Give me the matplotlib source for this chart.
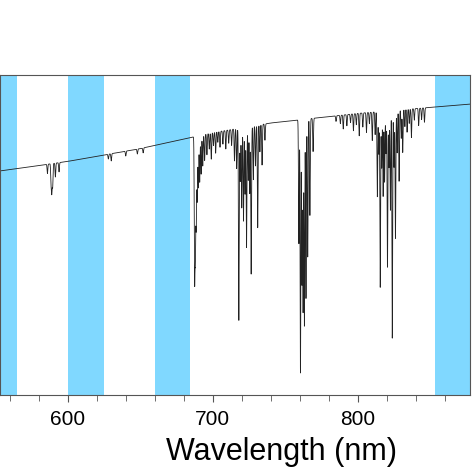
import numpy as np
import matplotlib.pyplot as plt
from matplotlib.ticker import MultipleLocator

plt.rcParams['font.family'] = ['Liberation Sans', 'DejaVu Sans']

# continuum knots (nm, relative intensity)
cont_nm = [540, 553, 600, 650, 700, 740, 760, 800, 840, 880, 900]
cont_val = [0.69, 0.70, 0.73, 0.77, 0.82, 0.85, 0.86, 0.88, 0.895, 0.91, 0.915]

# absorption lines: centre (nm), depth (fraction of continuum)
line_nm = [586.0, 588.5, 589.0, 589.6, 591.5, 594.0, 628.0, 630.0, 640.0, 648.0, 652.0,
           687.5, 688.0, 688.6, 689.3, 690.1, 691.0, 692.0, 693.1, 694.4, 696.0, 697.6,
           699.0, 700.5, 702.0, 703.5, 705.0, 707.0, 709.0, 711.0, 713.0, 715.0, 716.5,
           718.0, 719.0, 720.0, 721.2, 722.3, 723.3, 724.5, 725.5, 726.5, 728.0, 729.5,
           731.0, 732.5, 734.0, 736.0,
           759.4, 760.5, 761.5, 762.3, 763.2, 764.3, 765.5, 767.0, 769.2,
           785.0, 788.0, 790.0, 792.5, 795.0, 797.0, 799.0, 801.0, 803.5, 806.0, 808.0,
           810.0, 812.0, 813.5, 814.5, 815.5, 816.5, 817.5, 818.5, 819.5, 820.5, 821.5,
           822.5, 823.8, 825.0, 826.0, 827.2, 828.5, 830.0, 831.0, 832.5, 834.0, 835.5,
           837.0, 839.0, 842.0, 844.0, 846.0]
line_depth = [0.04, 0.08, 0.12, 0.10, 0.06, 0.04, 0.02, 0.03, 0.02, 0.02, 0.02,
              0.55, 0.45, 0.35, 0.25, 0.20, 0.18, 0.15, 0.12, 0.10, 0.08, 0.06,
              0.10, 0.05, 0.08, 0.04, 0.06, 0.05, 0.07, 0.05, 0.06, 0.12, 0.15,
              0.72, 0.20, 0.30, 0.35, 0.25, 0.45, 0.20, 0.25, 0.55, 0.20, 0.15,
              0.38, 0.10, 0.15, 0.06,
              0.45, 0.92, 0.60, 0.70, 0.75, 0.65, 0.50, 0.35, 0.12,
              0.02, 0.03, 0.05, 0.04, 0.03, 0.06, 0.04, 0.08, 0.05, 0.07, 0.04,
              0.10, 0.08, 0.30, 0.15, 0.62, 0.20, 0.30, 0.25, 0.15, 0.55, 0.20,
              0.35, 0.80, 0.20, 0.45, 0.15, 0.25, 0.10, 0.15, 0.06, 0.08, 0.05,
              0.10, 0.04, 0.06, 0.04, 0.05]

# shaded bands (nm)
band_lo = [540, 600, 660, 853]
band_hi = [565, 625, 684, 900]

wl = np.arange(540, 900, 0.05)
flux = np.interp(wl, cont_nm, cont_val)
trans = np.ones_like(wl)
for c, d in zip(line_nm, line_depth):
    trans *= 1 - d * np.exp(-0.5 * ((wl - c) / 0.25) ** 2)
flux = flux * trans

fig = plt.figure(figsize=(4.74, 4.74), dpi=100)
ax = fig.add_axes([0.0, 1 - 395 / 474, 470 / 474, 320 / 474])

for lo, hi in zip(band_lo, band_hi):
    ax.axvspan(lo, hi, color='#80d8ff', lw=0)
ax.plot(wl, flux, color='#222222', lw=0.6)

ax.set_xlim(553.3, 877.4)
ax.set_ylim(0, 1)
ax.set_yticks([])
ax.xaxis.set_major_locator(MultipleLocator(100))
ax.xaxis.set_minor_locator(MultipleLocator(20))
ax.tick_params(axis='x', which='major', labelsize=15, length=5, pad=6, color='#555555')
ax.tick_params(axis='x', which='minor', length=4, color='#555555')
for s in ax.spines.values():
    s.set_color('#555555')
    s.set_linewidth(0.8)
ax.set_xlabel('Wavelength (nm)', fontsize=22)
ax.xaxis.set_label_coords(0.6, -0.13)

fig.savefig('out.png', dpi=100)
